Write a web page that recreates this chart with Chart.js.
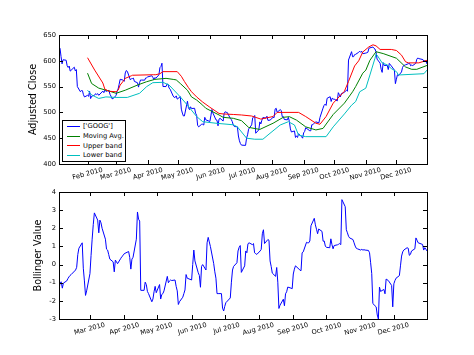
<!DOCTYPE html>
<html><head><meta charset="utf-8">
<script src="https://cdn.jsdelivr.net/npm/chart.js@4.4.1/dist/chart.umd.min.js"></script>
<style>
html,body{margin:0;padding:0;background:#fff;}
#wrap{position:relative;width:474px;height:355px;overflow:hidden;font-family:'DejaVu Sans',sans-serif;}
#c1{position:absolute;left:0;top:0;}
#c2{position:absolute;left:0;top:185px;}
#legend{position:absolute;left:62px;top:120px;width:64px;height:42px;box-sizing:border-box;border:1px solid #000;background:#fff;padding-top:0.5px;font-family:'DejaVu Sans';font-size:6.7px;color:#000;}
#legend .row{height:9.7px;display:flex;align-items:center;white-space:nowrap;}
#legend .ln{margin-left:4px;width:13px;height:0;border-top:1.2px solid #000;}
#legend .tx{margin-left:3px;}
</style></head><body>
<div id="wrap">
<canvas id="c1" width="474" height="185"></canvas>
<canvas id="c2" width="474" height="170"></canvas>
<div id="legend"></div>
</div>
<script>
// ---------- data ----------
const monthStarts = ['01-01','02-01','03-01','04-01','05-01','06-01','07-01','08-01','09-01','10-01','11-01','12-01'];
const monthLabels = ['Jan 2010','Feb 2010','Mar 2010','Apr 2010','May 2010','Jun 2010','Jul 2010','Aug 2010','Sep 2010','Oct 2010','Nov 2010','Dec 2010'];

const priceDates = [
'01-04','01-05','01-06','01-07','01-08','01-11','01-12','01-13','01-14','01-15','01-19','01-20','01-21','01-22','01-25','01-26','01-27','01-28','01-29',
'02-01','02-02','02-03','02-04','02-05','02-08','02-09','02-10','02-11','02-12','02-16','02-17','02-18','02-19','02-22','02-23','02-24','02-25','02-26',
'03-01','03-02','03-03','03-04','03-05','03-08','03-09','03-10','03-11','03-12','03-15','03-16','03-17','03-18','03-19','03-22','03-23','03-24','03-25','03-26','03-29','03-30','03-31',
'04-01','04-05','04-06','04-07','04-08','04-09','04-12','04-13','04-14','04-15','04-16','04-19','04-20','04-21','04-22','04-23','04-26','04-27','04-28','04-29','04-30',
'05-03','05-04','05-05','05-06','05-07','05-10','05-11','05-12','05-13','05-14','05-17','05-18','05-19','05-20','05-21','05-24','05-25','05-26','05-27','05-28',
'06-01','06-02','06-03','06-04','06-07','06-08','06-09','06-10','06-11','06-14','06-15','06-16','06-17','06-18','06-21','06-22','06-23','06-24','06-25','06-28','06-29','06-30',
'07-01','07-02','07-06','07-07','07-08','07-09','07-12','07-13','07-14','07-15','07-16','07-19','07-20','07-21','07-22','07-23','07-26','07-27','07-28','07-29','07-30',
'08-02','08-03','08-04','08-05','08-06','08-09','08-10','08-11','08-12','08-13','08-16','08-17','08-18','08-19','08-20','08-23','08-24','08-25','08-26','08-27','08-30','08-31',
'09-01','09-02','09-03','09-07','09-08','09-09','09-10','09-13','09-14','09-15','09-16','09-17','09-20','09-21','09-22','09-23','09-24','09-27','09-28','09-29','09-30',
'10-01','10-04','10-05','10-06','10-07','10-08','10-11','10-12','10-13','10-14','10-15','10-18','10-19','10-20','10-21','10-22','10-25','10-26','10-27','10-28','10-29',
'11-01','11-02','11-03','11-04','11-05','11-08','11-09','11-10','11-11','11-12','11-15','11-16','11-17','11-18','11-19','11-22','11-23','11-24','11-26','11-29','11-30',
'12-01','12-02','12-03','12-06','12-07','12-08','12-09','12-10','12-13','12-14','12-15','12-16','12-17','12-20','12-21','12-22','12-23','12-27','12-28','12-29','12-30','12-31'];
const priceValues = [
626.75,623.99,608.26,594.10,602.02,601.11,590.48,587.09,589.85,580.00,587.62,580.41,582.98,550.01,540.00,542.42,542.10,534.29,529.94,
533.02,531.12,540.82,526.78,531.29,533.47,536.44,534.45,536.40,533.12,541.30,538.21,543.22,540.76,542.80,535.07,531.47,526.43,526.80,
532.69,541.06,545.32,554.59,564.21,562.48,560.19,576.45,581.14,579.54,563.18,565.20,565.56,566.40,560.00,557.50,549.00,557.33,562.88,562.69,562.45,566.71,567.12,
568.80,571.01,568.22,563.54,567.49,566.22,572.73,586.77,589.00,595.30,550.15,550.10,555.04,554.30,547.06,544.99,531.64,529.06,529.19,532.00,525.70,
530.60,506.37,498.67,493.14,493.14,521.65,509.05,505.39,510.88,507.53,507.97,498.37,494.43,475.01,472.05,477.16,477.07,475.47,490.46,485.63,
482.37,493.37,505.60,498.72,485.52,484.78,474.02,487.01,488.50,483.19,497.99,501.27,500.08,500.03,488.56,486.25,482.05,475.10,472.68,472.08,454.26,444.95,
439.49,436.55,436.07,450.20,456.56,467.49,475.83,489.20,491.34,494.02,459.60,466.18,481.59,477.50,484.81,490.06,488.97,492.63,484.35,484.99,484.85,
490.41,489.83,506.32,508.10,500.22,505.35,503.71,491.74,492.01,486.35,485.59,490.52,482.15,467.97,462.02,464.07,451.39,454.62,451.39,458.83,452.69,450.02,
460.33,463.18,470.30,464.40,464.38,476.14,476.14,482.27,480.43,480.64,479.95,490.15,508.28,513.46,516.00,513.48,527.29,530.41,521.18,527.69,525.79,
525.62,522.35,538.23,534.35,530.01,536.35,538.84,541.39,543.30,540.93,601.45,617.71,607.83,607.98,611.99,612.53,616.50,618.60,616.47,618.58,613.70,
615.00,615.60,616.57,624.27,625.08,626.77,624.02,622.88,617.19,603.29,595.47,583.72,577.52,596.56,590.83,591.22,583.01,594.97,590.00,582.11,555.71,
564.35,573.00,571.25,578.36,587.14,590.54,591.50,592.21,594.62,594.91,590.30,591.71,590.80,595.06,603.07,605.49,604.23,602.38,598.86,601.00,598.86,593.97];

const maDates = ['02-01','02-05','02-12','02-22','03-01','03-10','03-22','03-31','04-08','04-19','04-26','04-29','05-03','05-10','05-14','05-19','05-25','05-28','06-04','06-10','06-14','06-24','07-02','07-09','07-20','08-02','08-12','08-18','08-25','09-03','09-13','09-20','09-30','10-11','10-19','10-22','10-29','11-01','11-05','11-11','11-18','12-01','12-10','12-16','12-21','12-31'];
const maValues = [576,556,547,541.5,537,543,553,559.5,564,566,564,563,556,543,530,524,514,508,501,495,490.5,488.5,484,471,467,479,490.5,491.7,485,472,466,469,496,518,540,550,576,582,601,617.6,614,605,588,583.5,583.5,591];

const upperDates = ['02-01','02-08','02-16','02-18','02-22','03-01','03-03','03-05','03-09','03-10','03-16','03-17','04-07','04-09','04-13','04-16','04-30','05-04','05-07','05-11','05-14','05-19','05-25','06-01','06-07','06-10','06-14','06-24','07-02','07-12','07-21','08-02','08-06','08-27','09-03','09-13','09-17','09-23','09-30','10-11','10-15','10-21','10-25','10-29','11-04','11-08','11-11','11-15','11-26','12-01','12-06','12-10','12-13','12-23','12-31'];
const upperValues = [606,582,557,545,541,540,543,553,563,566,571,572,573,573,575,579,579,570,560,548,540,530,520,510,502,498,497,496,495,493,487,492,500,500,492,479,477,492,518,541,560,590,600,617,627,631,629,622,622,620,611,598,596,596,601];

const lowerDates = ['02-01','02-05','02-12','02-19','03-01','03-12','03-24','03-31','04-06','04-16','04-22','05-03','05-10','05-19','05-25','06-07','06-24','06-28','07-07','07-15','07-23','07-30','08-09','08-17','08-23','08-27','09-03','09-23','09-30','10-11','10-18','10-22','10-26','11-01','11-05','11-10','11-11','11-12','11-17','11-22','11-26','12-01','12-03','12-28','12-31'];
const lowerValues = [543,534,527,530,529,529,537,550,557.6,558.3,553,530,514,492,482,479,476,472,450,448,448,459.5,475.6,482,475.6,456,453,453,472,497,514,521,540,547,572.5,605,613,611,596,592,585,579,572.5,575,582];

const bollDates = ['02-01','02-02','02-03','02-04','02-05','02-08','02-09','02-10','02-11','02-12','02-16','02-17','02-18','02-19','02-22','02-23','02-24','02-25','02-26',
'03-01','03-02','03-03','03-04','03-05','03-08','03-09','03-10','03-11','03-12','03-15','03-16','03-17','03-18','03-19','03-22','03-23','03-24','03-25','03-26','03-29','03-30','03-31',
'04-01','04-05','04-06','04-07','04-08','04-09','04-12','04-13','04-14','04-15','04-16','04-19','04-20','04-21','04-22','04-23','04-26','04-27','04-28','04-29','04-30',
'05-03','05-04','05-05','05-06','05-07','05-10','05-11','05-12','05-13','05-14','05-17','05-18','05-19','05-20','05-21','05-24','05-25','05-26','05-27','05-28',
'06-01','06-02','06-03','06-04','06-07','06-08','06-09','06-10','06-11','06-14','06-15','06-16','06-17','06-18','06-21','06-22','06-23','06-24','06-25','06-28','06-29','06-30',
'07-01','07-02','07-06','07-07','07-08','07-09','07-12','07-13','07-14','07-15','07-16','07-19','07-20','07-21','07-22','07-23','07-26','07-27','07-28','07-29','07-30',
'08-02','08-03','08-04','08-05','08-06','08-09','08-10','08-11','08-12','08-13','08-16','08-17','08-18','08-19','08-20','08-23','08-24','08-25','08-26','08-27','08-30','08-31',
'09-01','09-02','09-03','09-07','09-08','09-09','09-10','09-13','09-14','09-15','09-16','09-17','09-20','09-21','09-22','09-23','09-24','09-27','09-28','09-29','09-30',
'10-01','10-04','10-05','10-06','10-07','10-08','10-11','10-12','10-13','10-14','10-15','10-18','10-19','10-20','10-21','10-22','10-25','10-26','10-27','10-28','10-29',
'11-01','11-02','11-03','11-04','11-05','11-08','11-09','11-10','11-11','11-12','11-15','11-16','11-17','11-18','11-19','11-22','11-23','11-24','11-26','11-29','11-30',
'12-01','12-02','12-03','12-06','12-07','12-08','12-09','12-10','12-13','12-14','12-15','12-16','12-17','12-20','12-21','12-22','12-23','12-27','12-28','12-29','12-30','12-31'];
const bollValues = [
-1.37,-1.0,-0.95,-1.30,-1.02,-0.9,-0.78,-0.68,-0.6,-0.55,-0.3,-0.15,0.55,0.9,1.2,-0.2,-0.9,-1.7,-1.45,
-0.5,0.5,1.4,2.2,2.85,2.45,1.75,2.45,2.3,2.0,1.4,0.85,0.8,0.55,0.3,0.15,-0.4,0.25,0.15,0.05,0.35,0.45,0.5,
0.6,0.72,0.4,-0.25,0.3,0.4,1.4,2.9,2.5,2.4,-1.42,-1.42,-0.97,-1.1,-1.48,-1.6,-2.05,-1.9,-1.5,-1.2,-1.55,
-1.1,-1.9,-1.65,-1.6,-1.45,-0.65,-1.0,-0.9,-0.85,-0.88,-0.85,-1.2,-1.45,-2.2,-2.05,-1.8,-1.6,-1.4,-0.55,-0.75,
-0.85,0.0,0.8,0.2,-0.45,-0.6,-1.25,-0.1,0.0,-0.3,1.2,1.5,1.25,1.0,0.05,-0.4,-0.75,-1.6,-1.6,-1.6,-2.4,-2.56,
-2.3,-2.1,-1.84,-0.97,-0.3,-0.1,0.1,0.75,0.95,1.05,-0.43,-0.07,0.75,0.65,1.15,1.2,1.1,1.16,0.65,0.6,0.56,
0.75,0.84,1.7,1.92,1.16,1.38,1.34,0.2,-0.1,-0.47,-0.65,-0.16,-0.97,-2.42,-2.24,-1.91,-2.27,-1.61,-1.5,-1.24,-1.3,-1.33,
-0.52,-0.25,-0.07,-0.3,-0.34,0.65,0.7,1.23,1.2,1.2,1.3,2.14,2.55,2.19,1.95,1.7,1.96,1.83,1.29,1.3,1.02,
0.95,0.93,1.42,1.1,0.87,1.05,1.09,1.12,1.16,1.1,3.58,3.19,1.92,1.75,1.56,1.47,1.38,1.2,1.02,0.9,0.87,
0.80,0.84,0.8,0.82,0.8,0.78,0.65,0.1,-0.5,-2.15,-2.33,-2.78,-3.0,-1.24,-1.48,-1.37,-1.61,-0.8,-0.88,-1.15,-2.33,
-1.06,-0.88,-0.75,-0.61,-0.07,0.47,0.7,0.8,0.93,0.9,0.51,0.56,0.75,0.87,1.47,1.34,1.2,1.11,0.80,0.93,0.85,0.75];

// ---------- helpers ----------
const dayOf = s => (Date.UTC(2010, +s.slice(0,2) - 1, +s.slice(3)) - Date.UTC(2010, 0, 1)) / 864e5;
const pts = (d, v) => d.map((s, i) => ({x: dayOf(s), y: v[i]}));
const monthDays = monthStarts.map(dayOf);
const FONT = 'DejaVu Sans';

const frameTicks = {
  id: 'frameTicks',
  afterDatasetsDraw(chart) {
    const {ctx, chartArea: a, scales: {x, y}} = chart;
    ctx.save();
    ctx.strokeStyle = '#000';
    ctx.lineWidth = 1;
    const L = 4;
    ctx.beginPath();
    x.ticks.forEach(t => {
      const px = Math.round(x.getPixelForValue(t.value)) + 0.5;
      ctx.moveTo(px, a.bottom); ctx.lineTo(px, a.bottom - L);
      ctx.moveTo(px, a.top); ctx.lineTo(px, a.top + L);
    });
    y.ticks.forEach(t => {
      const py = Math.round(y.getPixelForValue(t.value)) + 0.5;
      ctx.moveTo(a.left, py); ctx.lineTo(a.left + L, py);
      ctx.moveTo(a.right, py); ctx.lineTo(a.right - L, py);
    });
    ctx.stroke();
    ctx.strokeRect(Math.round(a.left) + 0.5, Math.round(a.top) + 0.5, Math.round(a.right - a.left), Math.round(a.bottom - a.top));
    ctx.restore();
  }
};

function xScale(minDay, maxDay, axisH) {
  return {
    type: 'linear', min: minDay, max: maxDay,
    afterBuildTicks: s => { s.ticks = monthDays.filter(v => v > s.min && v <= s.max).map(v => ({value: v})); },
    afterFit: s => { s.height = axisH; },
    grid: {display: false, drawTicks: false},
    border: {display: false},
    ticks: {
      autoSkip: false, minRotation: 15, maxRotation: 15, labelOffset: 15, padding: 2,
      color: '#000', font: {family: FONT, size: 6.7},
      callback: v => monthLabels[monthDays.indexOf(v)]
    }
  };
}
function yScale(min, max, step, title, titlePad) {
  return {
    min, max,
    afterFit: s => { s.width = 59; },
    grid: {display: false, drawTicks: false},
    border: {display: false},
    ticks: {stepSize: step, padding: 3, color: '#000', font: {family: FONT, size: 6.7}},
    title: {display: true, text: title, color: '#000', font: {family: FONT, size: 9.6}, padding: {top: titlePad, bottom: 0}}
  };
}
const common = {
  responsive: false, animation: false, devicePixelRatio: 1, events: [],
  plugins: {legend: {display: false}, tooltip: {enabled: false}},
  elements: {point: {radius: 0}, line: {borderWidth: 1, tension: 0}}
};

const chart1 = new Chart(document.getElementById('c1'), {
  type: 'line',
  data: {datasets: [
    {label: "['GOOG']", data: pts(priceDates, priceValues), borderColor: '#0000ff', order: 3},
    {label: 'Moving Avg.', data: pts(maDates, maValues), borderColor: '#008000', order: 2},
    {label: 'Upper band', data: pts(upperDates, upperValues), borderColor: '#ff0000', order: 1},
    {label: 'Lower band', data: pts(lowerDates, lowerValues), borderColor: '#00bfbf', order: 0}
  ]},
  options: Object.assign({}, common, {
    layout: {padding: {left: 0, top: 35, right: 47, bottom: 0}},
    scales: {x: xScale(dayOf('01-04'), dayOf('12-31'), 21), y: yScale(400, 650, 50, 'Adjusted Close', 28)}
  }),
  plugins: [frameTicks]
});

const chart2 = new Chart(document.getElementById('c2'), {
  type: 'line',
  data: {datasets: [
    {label: 'Bollinger Value', data: pts(bollDates, bollValues), borderColor: '#0000ff'}
  ]},
  options: Object.assign({}, common, {
    layout: {padding: {left: 0, top: 5, right: 47, bottom: 0}},
    scales: {x: xScale(dayOf('02-01'), dayOf('12-31'), 36), y: yScale(-3, 4, 1, 'Bollinger Value', 32.5)}
  }),
  plugins: [frameTicks]
});

// HTML legend built from the chart's datasets
const lg = document.getElementById('legend');
chart1.data.datasets.forEach(ds => {
  const row = document.createElement('div'); row.className = 'row';
  const ln = document.createElement('span'); ln.className = 'ln'; ln.style.borderTopColor = ds.borderColor;
  const tx = document.createElement('span'); tx.className = 'tx'; tx.textContent = ds.label;
  row.appendChild(ln); row.appendChild(tx); lg.appendChild(row);
});
</script>
</body></html>
